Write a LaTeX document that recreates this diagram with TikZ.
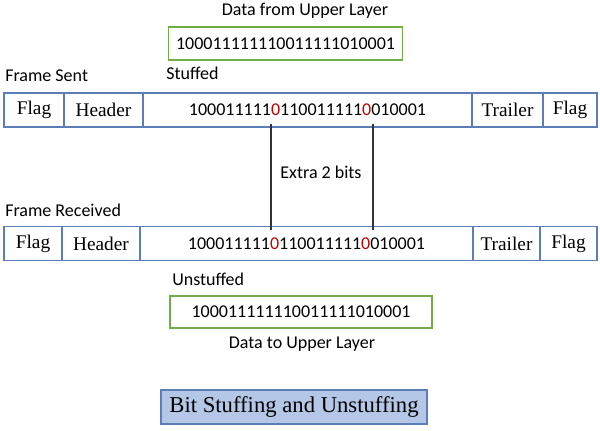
\documentclass[tikz,border=0pt]{standalone}
\usepackage{fontspec}
\setmainfont{Carlito}
\newfontfamily\serifc{Liberation Serif}
\begin{document}
\begin{tikzpicture}[x=0.75pt,y=-0.75pt,
  cell/.style={draw=bordblue,line width=0.8pt,minimum height=25.5pt,inner sep=0pt,font=\serifc\fontsize{14.5}{16}\selectfont},
  bits/.style={font=\fontsize{13.5}{16}\selectfont},
  lbl/.style={font=\fontsize{13.5}{15}\selectfont,inner sep=0pt},
  gbox/.style={draw=gr,line width=0.9pt,inner sep=0pt,font=\fontsize{13.5}{16}\selectfont}]
\definecolor{bordblue}{HTML}{5B7DB8}
\definecolor{gr}{HTML}{70AD47}
\definecolor{rd}{HTML}{C00000}
\definecolor{tb}{HTML}{B4C7E7}
\useasboundingbox (0,0) rectangle (600,430);
\newcommand{\zr}{\textcolor{rd}{0}}
% labels
\node[lbl] (dfu) at (305,11) {Data from Upper Layer};
\node[gbox,minimum width=176pt,minimum height=24.75pt] (top) at (285.5,43.5) {100011111110011111010001};
\node[lbl,anchor=west] (fs) at (5,76) {Frame Sent};
\node[lbl,anchor=west] (st) at (166,73) {Stuffed};
% top frame
\node[cell,minimum width=45pt] (f1) at (34,110) {Flag};
\node[cell,minimum width=59.25pt] (h1) at (103.5,110) {Header};
\node[cell,minimum width=246.75pt,bits] (d1) at (307.5,110) {100011111\zr110011111\zr010001};
\node[cell,minimum width=53.25pt] (t1) at (507.5,110) {Trailer};
\node[cell,minimum width=40.5pt] (g1) at (570,110) {Flag};
% bottom frame
\node[lbl,anchor=west] (fr) at (5,210) {Frame Received};
\node[cell,minimum width=43.5pt] (f2) at (33,243.5) {Flag};
\node[cell,minimum width=58.5pt] (h2) at (101,243.5) {Header};
\node[cell,minimum width=249.75pt,bits] (d2) at (306.5,243.5) {100011111\zr110011111\zr010001};
\node[cell,minimum width=50.25pt] (t2) at (506.5,243.5) {Trailer};
\node[cell,minimum width=42.75pt] (g2) at (568.5,243.5) {Flag};
\coordinate (a1) at (271,123.5); \coordinate (a2) at (271,230);
\coordinate (b1) at (373,123.5); \coordinate (b2) at (373,230);
\draw[line width=1pt,black!80] (a1) -- (a2);
\draw[line width=1pt,black!80] (b1) -- (b2);
\node[lbl] (ex) at (321,172) {Extra 2 bits};
\node[lbl,anchor=west] (us) at (172,279) {Unstuffed};
\node[gbox,minimum width=196.5pt,minimum height=24pt] (bot) at (301,312) {100011111110011111010001};
\node[lbl] (dtu) at (302,344) {Data to Upper Layer};
\node[draw=bordblue,fill=tb,line width=0.8pt,minimum width=199.5pt,minimum height=25.5pt,inner sep=0pt,font=\serifc\fontsize{17}{19}\selectfont] (title) at (294,407) {Bit Stuffing and Unstuffing};
\end{tikzpicture}
\end{document}
